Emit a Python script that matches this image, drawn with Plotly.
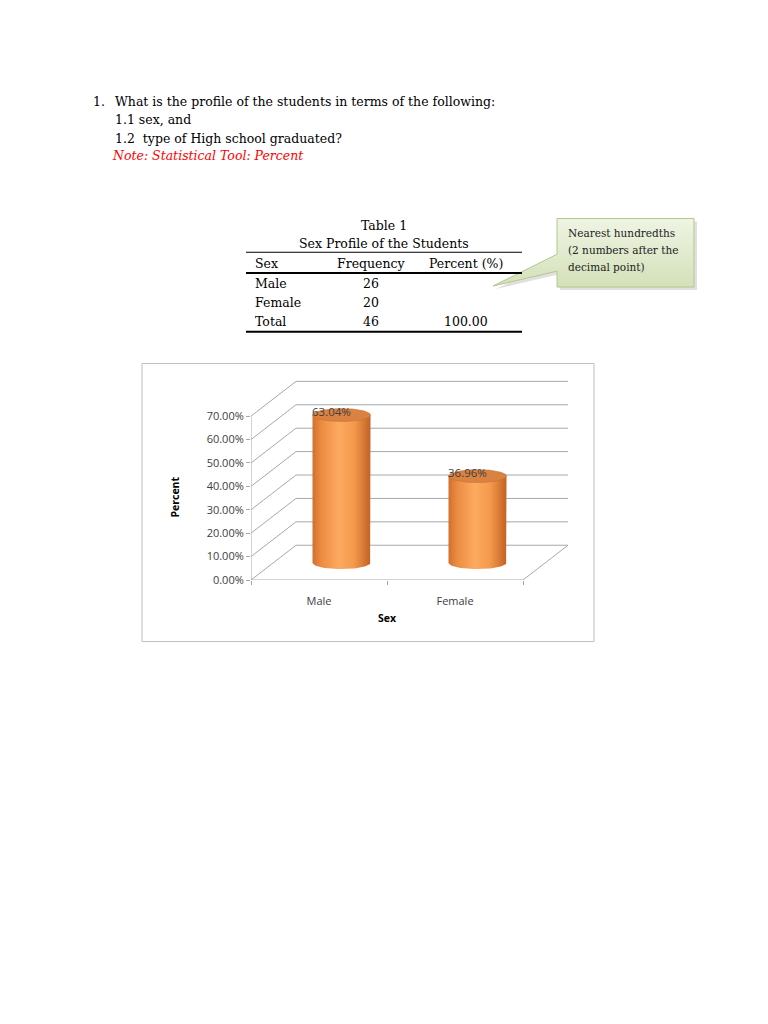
import numpy as np
import plotly.graph_objects as go

# chart data
sex = ["Male", "Female"]
percent = [63.04, 36.96]
percent_text = ["63.04%", "36.96%"]
tick_vals = [0, 10, 20, 30, 40, 50, 60, 70]
tick_text = ["0.00%", "10.00%", "20.00%", "30.00%", "40.00%", "50.00%", "60.00%", "70.00%"]

# table data
table_sex = ["Male", "Female", "Total"]
table_freq = ["26", "20", "46"]
table_pct = ["", "", "100.00"]

W, H = 768, 1024

# geometry of the fake 3d chart, in page pixels
FRONT_L, FRONT_B = 251, 584
RIGHT_PX, TOP_PX = 585, 375
CAT_PX = 136.0      # pixels per category
PCT_PX = 2.357      # pixels per percent
DEPTH_X, DEPTH_Y = 45, 35

DX = DEPTH_X / CAT_PX
DY = DEPTH_Y / PCT_PX
x_lo, x_hi = -0.5, len(sex) - 0.5
CYL_W = 58 / CAT_PX
CAP_H = 6.5 / PCT_PX

GRID = "#A8A8A8"
SERIF = "DejaVu Serif"
SANS = "Open Sans"

fig = go.Figure()
ann = []

# cylinders
t = np.linspace(0, np.pi, 40)
tt = np.linspace(0, 2 * np.pi, 80)
for i, v in enumerate(percent):
    xc = i + DX / 2
    yb = DY / 2
    yt = v + DY / 2
    # body: left edge up, across top, down right edge, bottom half ellipse back
    xs = [xc - CYL_W / 2, xc - CYL_W / 2, xc + CYL_W / 2, xc + CYL_W / 2] + list(xc + CYL_W / 2 * np.cos(t))
    ys = [yb, yt, yt, yb] + list(yb - CAP_H * np.sin(t))
    fig.add_trace(go.Scatter(
        x=xs, y=ys, mode="lines", fill="toself", line=dict(width=0),
        fillgradient=dict(type="horizontal", colorscale=[
            [0, "#D0702E"], [0.15, "#EC8C42"], [0.45, "#FDAA60"],
            [0.72, "#F4994C"], [1, "#C26224"]]),
        hoverinfo="skip", showlegend=False))
    fig.add_trace(go.Scatter(
        x=xc + CYL_W / 2 * np.cos(tt), y=yt + CAP_H * np.sin(tt),
        mode="lines", fill="toself", line=dict(width=0.6, color="#C9712F"),
        fillcolor="#DA8242", hoverinfo="skip", showlegend=False))
    ann.append(dict(x=xc - 0.07, y=yt, xref="x", yref="y", text=percent_text[i],
                    showarrow=False, yshift=4,
                    font=dict(family=SANS, size=11.5, color="#404040")))

# wall, floor and gridlines
shapes = []
for v in tick_vals:
    shapes.append(dict(type="line", xref="x", yref="y", x0=x_lo + DX, y0=v + DY,
                       x1=x_hi + DX, y1=v + DY, line=dict(color=GRID, width=1), layer="below"))
    shapes.append(dict(type="line", xref="x", yref="y", x0=x_lo, y0=v,
                       x1=x_lo + DX, y1=v + DY, line=dict(color=GRID, width=1), layer="below"))
shapes.append(dict(type="line", xref="x", yref="y", x0=x_lo, y0=0, x1=x_lo, y1=tick_vals[-1],
                   line=dict(color=GRID, width=1), layer="below"))
shapes.append(dict(type="line", xref="x", yref="y", x0=x_lo, y0=0, x1=x_hi, y1=0,
                   line=dict(color=GRID, width=1), layer="below"))
shapes.append(dict(type="line", xref="x", yref="y", x0=x_hi, y0=0, x1=x_hi + DX, y1=DY,
                   line=dict(color=GRID, width=1), layer="below"))

# page decorations in pixel coords (x2/y2)
shapes.append(dict(type="rect", xref="x2", yref="y2", x0=142, y0=366, x1=594, y1=646,
                   line=dict(color="#BDBDBD", width=1)))
shapes.append(dict(type="line", xref="x2", yref="y2", x0=246, y0=254, x1=522, y1=254,
                   line=dict(color="black", width=1)))
shapes.append(dict(type="line", xref="x2", yref="y2", x0=246, y0=275, x1=522, y1=275,
                   line=dict(color="black", width=2)))
shapes.append(dict(type="line", xref="x2", yref="y2", x0=246, y0=334, x1=522, y1=334,
                   line=dict(color="black", width=2)))

# callout
call_x = [557, 694, 694, 557, 557, 493, 557, 557]
call_y = [220, 220, 289, 289, 273, 288, 256, 220]
fig.add_trace(go.Scatter(
    x=[c + 3 for c in call_x], y=[c + 3 for c in call_y], xaxis="x2", yaxis="y2",
    mode="lines", fill="toself", line=dict(width=0), fillcolor="rgba(0,0,0,0.12)",
    hoverinfo="skip", showlegend=False))
fig.add_trace(go.Scatter(
    x=call_x, y=call_y, xaxis="x2", yaxis="y2", mode="lines", fill="toself",
    line=dict(width=1, color="#B3C78E"),
    fillgradient=dict(type="vertical", colorscale=[[0, "#D3E1B8"], [1, "#EFF4E4"]]),
    hoverinfo="skip", showlegend=False))


def txt(x, y, s, size=12.5, color="black", xanchor="left", family=SERIF, **kw):
    ann.append(dict(x=x, y=y, xref="x2", yref="y2", text=s, showarrow=False,
                    xanchor=xanchor, yanchor="middle",
                    font=dict(family=family, size=size, color=color), **kw))


txt(91, 102, "1.")
txt(113, 102, "What is the profile of the students in terms of the following:")
txt(113, 120, "1.1 sex, and")
txt(113, 139, "1.2  type of High school graduated?")
txt(110, 157, "<i>Note: Statistical Tool: Percent</i>", color="#FF0000")

txt(384, 227, "Table 1", xanchor="center")
txt(384, 245, "Sex Profile of the Students", xanchor="center")
txt(253, 265, "Sex")
txt(371, 265, "Frequency", xanchor="center")
txt(466, 265, "Percent (%)", xanchor="center")
for k, row in enumerate(table_sex):
    yy = 285 + k * 19.5
    txt(253, yy, row)
    txt(371, yy, table_freq[k], xanchor="center")
    if table_pct[k]:
        txt(466, yy, table_pct[k], xanchor="center")

txt(566, 235, "Nearest hundredths", size=10.5, color="#222222")
txt(566, 252, "(2 numbers after the", size=10.5, color="#222222")
txt(566, 269, "decimal point)", size=10.5, color="#222222")

txt(175, 501, "<b>Percent</b>", size=10.5, family=SANS, xanchor="center", textangle=-90)
txt(387, 622, "<b>Sex</b>", size=10.5, family=SANS, xanchor="center")

fig.update_layout(
    width=W, height=H, margin=dict(l=0, r=0, t=0, b=0),
    paper_bgcolor="white", plot_bgcolor="rgba(0,0,0,0)",
    shapes=shapes, annotations=ann,
    xaxis=dict(domain=[FRONT_L / W, RIGHT_PX / W],
               range=[x_lo, x_lo + (RIGHT_PX - FRONT_L) / CAT_PX],
               tickvals=list(range(len(sex))), ticktext=sex, ticks="",
               ticklabelstandoff=13,
               showgrid=False, zeroline=False, showline=False,
               tickfont=dict(family=SANS, size=11, color="#404040"),
               minor=dict(tickvals=[x_lo + k for k in range(len(sex) + 1)],
                          ticks="outside", ticklen=4, tickcolor=GRID),
               fixedrange=True),
    yaxis=dict(domain=[1 - FRONT_B / H, 1 - TOP_PX / H],
               range=[0, (FRONT_B - TOP_PX) / PCT_PX],
               tickvals=tick_vals, ticktext=tick_text, ticks="outside", ticklen=4,
               tickcolor=GRID, showgrid=False, zeroline=False, showline=False,
               tickfont=dict(family=SANS, size=11, color="#404040"),
               fixedrange=True),
    xaxis2=dict(domain=[0, 1], range=[0, W], visible=False, fixedrange=True),
    yaxis2=dict(domain=[0, 1], range=[H, 0], visible=False, fixedrange=True),
)

fig.write_html("out.html", config={"displayModeBar": False},
               post_script="document.body.style.margin='0';")
